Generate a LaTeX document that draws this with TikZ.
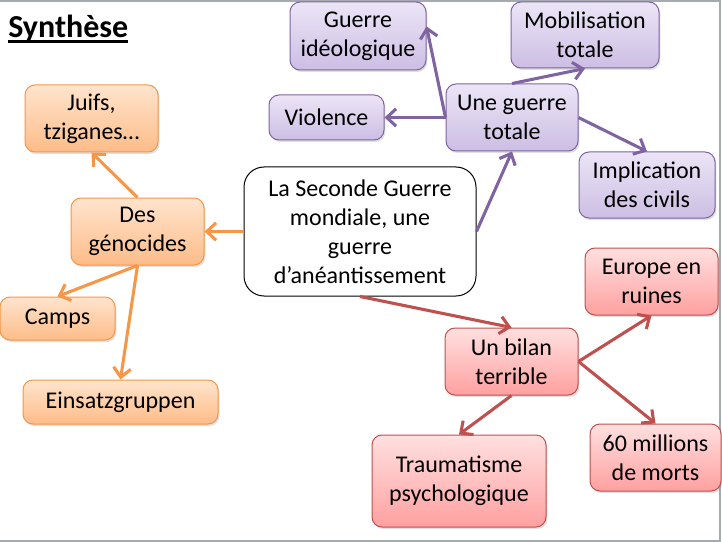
\documentclass[tikz,border=0pt]{standalone}
\usepackage{fontspec}
\setmainfont{Carlito}
\usepackage{tikz}
\usetikzlibrary{arrows.meta}
\usetikzlibrary{shadows}

\definecolor{framegray}{RGB}{165,170,176}
\definecolor{orangeline}{RGB}{247,150,70}
\definecolor{orangetop}{RGB}{255,228,205}
\definecolor{orangebot}{RGB}{253,188,136}
\definecolor{purpleline}{RGB}{128,100,162}
\definecolor{purpletop}{RGB}{236,229,246}
\definecolor{purplebot}{RGB}{204,190,228}
\definecolor{redline}{RGB}{192,80,77}
\definecolor{redtop}{RGB}{255,224,224}
\definecolor{redbot}{RGB}{255,160,160}

\tikzset{
  box/.style={rectangle, rounded corners=7.5pt, align=center, inner sep=0pt,
    line width=0.75pt, font=\fontsize{18}{21.75}\selectfont,
    drop shadow={opacity=0.25, shadow xshift=1pt, shadow yshift=-1.5pt}},
  orangebox/.style={box, draw=orangeline, top color=orangetop, bottom color=orangebot},
  purplebox/.style={box, draw=purpleline, top color=purpletop, bottom color=purplebot},
  redbox/.style={box, draw=redline, top color=redtop, bottom color=redbot},
  link/.style={-{Straight Barb[length=7pt,width=13pt]}, line width=2.3pt},
}

\begin{document}
\begin{tikzpicture}[x=0.75pt,y=-0.75pt]

\useasboundingbox (0,0) rectangle (722,542);
\fill[white] (0,0) rectangle (722,542);
\draw[framegray,line width=1.2pt] (0,1) -- (720,1) -- (720,541) -- (0,541);

\node[anchor=base west,inner sep=0pt,font=\fontsize{24}{28}\selectfont\bfseries] (titre) at (8,38) {Synthèse};
\draw[line width=2pt] ([yshift=1.5pt]titre.south west) -- ([yshift=1.5pt]titre.south east);

% centre
\node[rectangle, align=center, inner sep=0pt, line width=0.75pt,
  font=\fontsize{18}{21.75}\selectfont, draw=black, fill=white, rounded corners=15pt,
  minimum width=174pt, minimum height=96.75pt] (centre) at (360,231.5)
  {La Seconde Guerre\\mondiale, une\\guerre\\d’anéantissement};

% genocides
\node[orangebox, minimum width=99.75pt, minimum height=50.25pt] (juifs) at (91.5,118.5) {Juifs,\\tziganes…};
\node[orangebox, minimum width=99.75pt, minimum height=50.25pt] (geno) at (137.5,231.5) {Des\\génocides};
\node[orangebox, minimum width=86.25pt, minimum height=32.25pt] (camps) at (57.5,318.5) {Camps};
\node[orangebox, minimum width=146.25pt, minimum height=33pt] (einsatz) at (120.5,402) {Einsatzgruppen};

% guerre totale
\node[purplebox, minimum width=102pt, minimum height=51pt] (ideo) at (358,36) {Guerre\\idéologique};
\node[purplebox, minimum width=111pt, minimum height=49.5pt] (mobil) at (585,35) {Mobilisation\\totale};
\node[purplebox, minimum width=86.25pt, minimum height=33.75pt] (violence) at (326.5,117.5) {Violence};
\node[purplebox, minimum width=99pt, minimum height=50.25pt] (totale) at (512,117.5) {Une guerre\\totale};
\node[purplebox, minimum width=102pt, minimum height=49.5pt] (civils) at (647,185) {Implication\\des civils};

% bilan
\node[redbox, minimum width=99.75pt, minimum height=50.25pt] (europe) at (651.5,281.5) {Europe en\\ruines};
\node[redbox, minimum width=99.75pt, minimum height=50.25pt] (bilan) at (511.5,361.5) {Un bilan\\terrible};
\node[redbox, minimum width=130.5pt, minimum height=69pt] (trauma) at (459,481) {Traumatisme\\psychologique};
\node[redbox, minimum width=98.25pt, minimum height=50.25pt] (morts) at (655.5,457.5) {60 millions\\de morts};

\draw[link,orangeline] (centre.west) -- (geno.east);
\draw[link,orangeline] (geno.north) -- (juifs.south);
\draw[link,orangeline] (geno.south) -- (camps.north);
\draw[link,orangeline] (geno.south) -- (einsatz.north);

\draw[link,purpleline] (centre.east) -- (totale.south);
\draw[link,purpleline] (totale.west) -- (violence.east);
\draw[link,purpleline] (totale.west) -- (ideo.8);
\draw[link,purpleline] (totale.north) -- (mobil.south);
\draw[link,purpleline] (totale.east) -- (civils.north);

\draw[link,redline] (centre.south) -- (bilan.north);
\draw[link,redline] (bilan.east) -- (europe.south);
\draw[link,redline] (bilan.east) -- (morts.north);
\draw[link,redline] (bilan.south) -- (trauma.north);

\end{tikzpicture}
\end{document}
